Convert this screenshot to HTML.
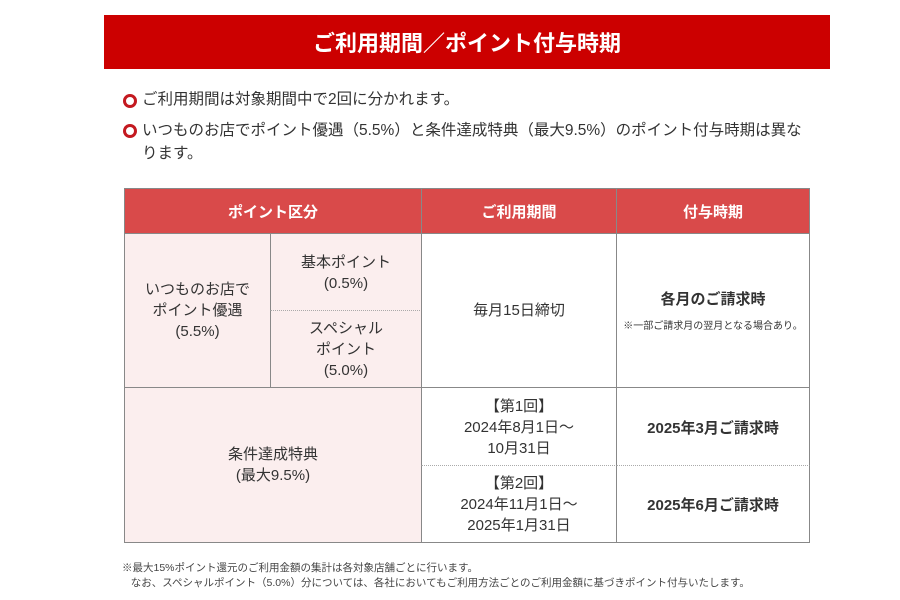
<!DOCTYPE html>
<html><head><meta charset="utf-8"><style>
body{margin:0;width:900px;height:600px;background:#fff;position:relative;overflow:hidden;font-family:"Liberation Sans","Noto Sans CJK JP",sans-serif;color:#333}
.a{position:absolute;box-sizing:border-box}
.c{display:flex;align-items:center;justify-content:center;text-align:center;flex-direction:column}
.h{background:#d94a4a;color:#fff;font-weight:bold;font-size:15px}
.p{background:#fbeeee}
.t{font-size:15px;line-height:21px}
.b{border:1px solid #888}
.bul{position:absolute;width:8px;height:8px;border:3px solid #c41920;border-radius:50%}
</style></head><body>
<div class="a c" style="left:104px;top:15px;width:726px;height:54px;background:#cc0000;color:#fff;font-weight:bold;font-size:22px">ご利用期間／ポイント付与時期</div>
<div class="bul" style="left:123px;top:94px"></div>
<div class="a" style="left:142px;top:89px;font-size:15.5px;line-height:22px">ご利用期間は対象期間中で2回に分かれます。</div>
<div class="bul" style="left:123px;top:124px"></div>
<div class="a" style="left:142px;top:119px;width:665px;font-size:15.5px;line-height:23px">いつものお店でポイント優遇（5.5%）と条件達成特典（最大9.5%）のポイント付与時期は異なります。</div>

<div class="a" style="left:124px;top:188px;width:686px;height:355px;border:1px solid #888"></div>
<div class="a c h b" style="left:124px;top:188px;width:298px;height:46px">ポイント区分</div>
<div class="a c h b" style="left:421px;top:188px;width:196px;height:46px">ご利用期間</div>
<div class="a c h b" style="left:616px;top:188px;width:194px;height:46px">付与時期</div>

<div class="a c p b t" style="left:124px;top:233px;width:147px;height:155px">いつものお店で<br>ポイント優遇<br>(5.5%)</div>
<div class="a c p b t" style="left:270px;top:233px;width:152px;height:78px;border-bottom:none">基本ポイント<br>(0.5%)</div>
<div class="a c p b t" style="left:270px;top:310px;width:152px;height:78px;border-top:1px dotted #aaa">スペシャル<br>ポイント<br>(5.0%)</div>
<div class="a c b t" style="left:421px;top:233px;width:196px;height:155px">毎月15日締切</div>
<div class="a c b" style="left:616px;top:233px;width:194px;height:155px"><div style="font-weight:bold;font-size:15px;margin-top:-2px">各月のご請求時</div><div style="font-size:10px;margin-top:8px">※一部ご請求月の翌月となる場合あり。</div></div>

<div class="a c p b t" style="left:124px;top:387px;width:298px;height:156px">条件達成特典<br>(最大9.5%)</div>
<div class="a c b t" style="left:421px;top:387px;width:196px;height:79px;border-bottom:none">【第1回】<br>2024年8月1日～<br>10月31日</div>
<div class="a c b t" style="left:421px;top:465px;width:196px;height:78px;border-top:1px dotted #aaa">【第2回】<br>2024年11月1日～<br>2025年1月31日</div>
<div class="a c b" style="left:616px;top:387px;width:194px;height:79px;border-bottom:none;font-weight:bold;font-size:15px">2025年3月ご請求時</div>
<div class="a c b" style="left:616px;top:465px;width:194px;height:78px;border-top:1px dotted #aaa;font-weight:bold;font-size:15px">2025年6月ご請求時</div>

<div class="a" style="left:122px;top:561px;font-size:10.5px;line-height:15px;color:#444">※最大15%ポイント還元のご利用金額の集計は各対象店舗ごとに行います。<br>&nbsp;&nbsp;&nbsp;なお、スペシャルポイント（5.0%）分については、各社においてもご利用方法ごとのご利用金額に基づきポイント付与いたします。</div>
</body></html>
